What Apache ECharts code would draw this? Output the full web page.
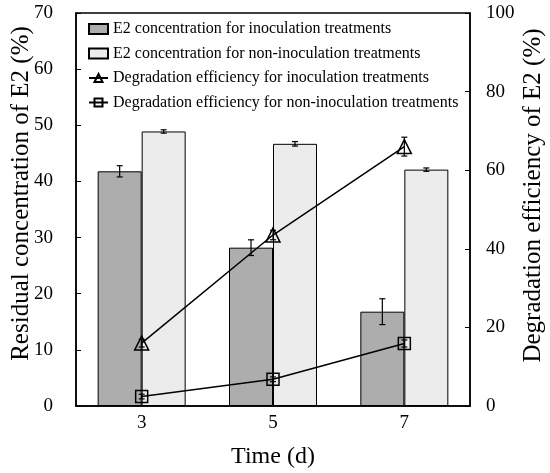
<!DOCTYPE html>
<html>
<head>
<meta charset="utf-8">
<script src="https://cdn.jsdelivr.net/npm/echarts@6/dist/echarts.min.js"></script>
<style>
  html, body { margin: 0; padding: 0; background: #fff; }
  #chart { width: 550px; height: 473px; }
</style>
</head>
<body>
<div id="chart"></div>
<script>
// time points (d)
var days = ['3', '5', '7'];

// residual E2 concentration (%), left axis
var concInoc = [41.8, 28.2, 16.8];
var concInocErr = [1.0, 1.4, 2.3];
var concNon = [48.9, 46.7, 42.1];
var concNonErr = [0.3, 0.4, 0.3];

// degradation efficiency (%), right axis
var effInoc = [16.0, 43.5, 66.0];
var effInocErr = [1.0, 1.2, 2.4];
var effNon = [2.4, 6.8, 15.9];
var effNonErr = [0.6, 0.6, 0.9];

var names = [
    'E2 concentration for inoculation treatments',
    'E2 concentration for non-inoculation treatments',
    'Degradation efficiency for inoculation treatments',
    'Degradation efficiency for non-inoculation treatments'
];

var FONT = 'Liberation Serif';
var catGap = 0.33;

function errData(vals, errs) {
    return vals.map(function (v, i) { return [i, v, errs[i]]; });
}

// side: -1 left bar, +1 right bar, 0 centre (line points)
function errRender(side) {
    return function (params, api) {
        var band = api.size([1, 0])[0];
        var barW = band * (1 - catGap) / 2;
        var dx = side * barW / 2;
        var x = api.value(0), v = api.value(1), e = api.value(2);
        var top = api.coord([x, v + e]);
        var bot = api.coord([x, v - e]);
        var cx = top[0] + dx;
        var cap = 3;
        var st = { stroke: '#000', lineWidth: 1.2 };
        return {
            type: 'group',
            children: [
                { type: 'line', shape: { x1: cx, y1: top[1], x2: cx, y2: bot[1] }, style: st },
                { type: 'line', shape: { x1: cx - cap, y1: top[1], x2: cx + cap, y2: top[1] }, style: st },
                { type: 'line', shape: { x1: cx - cap, y1: bot[1], x2: cx + cap, y2: bot[1] }, style: st }
            ]
        };
    };
}

var chart = echarts.init(document.getElementById('chart'));

chart.setOption({
    animation: false,
    textStyle: { fontFamily: FONT, color: '#000' },
    grid: {
        left: 76, right: 80, top: 13, bottom: 67,
        containLabel: false,
        outerBoundsMode: 'none',
        show: true, borderColor: '#000', borderWidth: 1.5
    },
    legend: {
        data: [
            { name: names[0], icon: 'rect' },
            { name: names[1], icon: 'rect' },
            names[2],
            names[3]
        ],
        orient: 'vertical',
        left: 83,
        top: 16,
        itemWidth: 19,
        itemHeight: 10,
        itemGap: 8.5,
        textStyle: { fontFamily: FONT, fontSize: 16, color: '#000' }
    },
    xAxis: {
        type: 'category',
        data: days,
        name: 'Time (d)',
        nameLocation: 'middle',
        nameGap: 39,
        nameTextStyle: { fontFamily: FONT, fontSize: 24, color: '#000' },
        axisLine: { lineStyle: { color: '#000', width: 1.5 } },
        axisTick: { inside: true, length: 5, lineStyle: { color: '#000' } },
        axisLabel: { fontFamily: FONT, fontSize: 19, color: '#000', margin: 8 }
    },
    yAxis: [
        {
            type: 'value',
            min: 0, max: 70, interval: 10,
            name: 'Residual concentration of E2 (%)',
            nameLocation: 'middle',
            nameMoveOverlap: false,
            nameGap: 42,
            nameTextStyle: { fontFamily: FONT, fontSize: 25, color: '#000', padding: [0, 0, 0, 32] },
            axisLine: { show: true, lineStyle: { color: '#000', width: 1.5 } },
            axisTick: { show: true, inside: true, length: 5, lineStyle: { color: '#000' } },
            axisLabel: { fontFamily: FONT, fontSize: 19, color: '#000', margin: 23 },
            splitLine: { show: false }
        },
        {
            type: 'value',
            min: 0, max: 100, interval: 20,
            position: 'right',
            name: 'Degradation efficiency of E2 (%)',
            nameLocation: 'middle',
            nameMoveOverlap: false,
            nameRotate: 90,
            nameGap: 51,
            nameTextStyle: { fontFamily: FONT, fontSize: 25, color: '#000', padding: [0, 0, 0, 28] },
            axisLine: { show: true, lineStyle: { color: '#000', width: 1.5 } },
            axisTick: { show: true, inside: true, length: 5, lineStyle: { color: '#000' } },
            axisLabel: { fontFamily: FONT, fontSize: 19, color: '#000', margin: 16 },
            splitLine: { show: false }
        }
    ],
    series: [
        {
            name: names[0],
            type: 'bar',
            data: concInoc,
            barGap: 0,
            barCategoryGap: (catGap * 100) + '%',
            itemStyle: { color: '#adadad', borderColor: '#000', borderWidth: 1 }
        },
        {
            name: names[1],
            type: 'bar',
            data: concNon,
            itemStyle: { color: '#ececec', borderColor: '#000', borderWidth: 1 }
        },
        {
            name: names[2],
            type: 'line',
            yAxisIndex: 1,
            data: effInoc,
            symbol: 'triangle',
            symbolSize: 14,
            z: 5,
            lineStyle: { color: '#000', width: 1.5 },
            itemStyle: { color: 'rgba(255,255,255,0)', borderColor: '#000', borderWidth: 1.5 }
        },
        {
            name: names[3],
            type: 'line',
            yAxisIndex: 1,
            data: effNon,
            symbol: 'rect',
            symbolSize: 12,
            z: 5,
            lineStyle: { color: '#000', width: 1.5 },
            itemStyle: { color: 'rgba(255,255,255,0)', borderColor: '#000', borderWidth: 1.5 }
        },
        {
            type: 'custom', z: 6, silent: true,
            renderItem: errRender(-1),
            data: errData(concInoc, concInocErr)
        },
        {
            type: 'custom', z: 6, silent: true,
            renderItem: errRender(1),
            data: errData(concNon, concNonErr)
        },
        {
            type: 'custom', z: 6, silent: true, yAxisIndex: 1,
            renderItem: errRender(0),
            data: errData(effInoc, effInocErr)
        },
        {
            type: 'custom', z: 6, silent: true, yAxisIndex: 1,
            renderItem: errRender(0),
            data: errData(effNon, effNonErr)
        }
    ]
});
</script>
</body>
</html>
